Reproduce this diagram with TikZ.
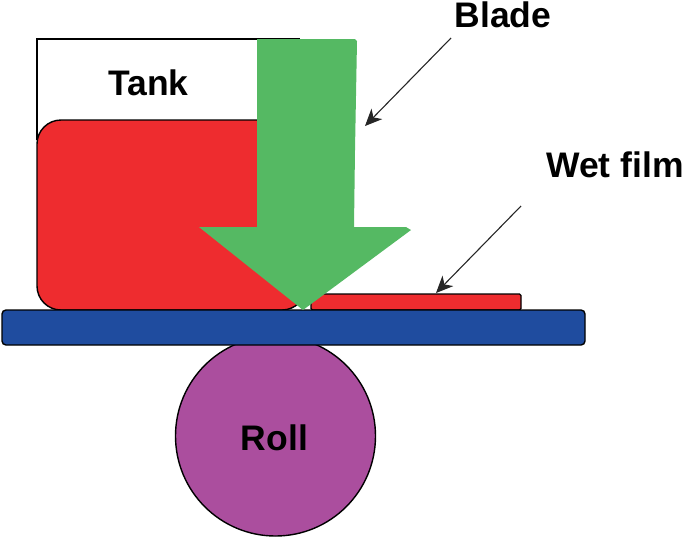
\documentclass[tikz,border=0pt]{standalone}
\usepackage{fontspec}
\setmainfont{Liberation Sans}
\usetikzlibrary{arrows.meta}
\definecolor{tankred}{HTML}{EE2C2F}
\definecolor{bladegreen}{HTML}{55B963}
\definecolor{barblue}{HTML}{1F4C9F}
\definecolor{rollpurple}{HTML}{AB4E9E}
\tikzset{
  outl/.style={draw=black,line width=1.4pt},
  lab/.style={font=\bfseries\fontsize{35.5}{36}\selectfont,text=black,inner sep=0pt,anchor=base},
  pointer/.style={draw=black!85,line width=1.1pt,-{Stealth[length=17pt,width=15pt,inset=5pt]}}
}
\begin{document}
\begin{tikzpicture}[x=1pt,y=-1pt]
\useasboundingbox (0,0) rectangle (685,542);
% tank outline and liquid
\draw[outl] (37,140) -- (37,39) -- (300,39);
\draw[outl,fill=tankred,rounded corners=24pt] (37,120) -- (37,310) -- (306,310) -- (306,120) -- cycle;
% wet film
\draw[outl,line width=1.2pt,fill=tankred,rounded corners=1.5pt] (311,310) -- (311,294) -- (521,294) -- (521,310) -- cycle;
% roll and bar
\node[outl,fill=rollpurple,circle,minimum size=200pt,inner sep=0pt] (roll) at (275.5,436) {};
\draw[outl,fill=barblue,rounded corners=4pt] (2,310) rectangle (585,345);
% blade
\fill[bladegreen] (257,39) -- (355,39) -- (357,41) -- (355,150) -- (354,227) -- (406,227) -- (411,230) -- (303,310) -- (199,227) -- (257,227) -- cycle;
\coordinate (bladetip) at (365,126);
\coordinate (bladefrom) at (451,38);
\coordinate (filmtip) at (436,293);
\coordinate (filmfrom) at (521,206);
\draw[pointer] (bladefrom) -- (bladetip);
\draw[pointer] (filmfrom) -- (filmtip);
% labels
\node[lab] (tanklabel) at (148.5,95) {Tank};
\node[lab] (bladelabel) at (503,27) {Blade};
\node[lab] (filmlabel) at (615,177) {Wet film};
\node[lab] (rolllabel) at (274.5,450) {Roll};
\end{tikzpicture}
\end{document}
